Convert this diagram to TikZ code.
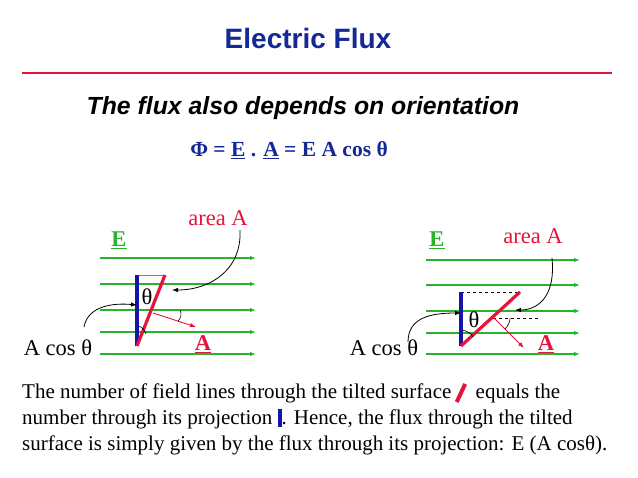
\documentclass[tikz,border=0pt]{standalone}
\usepackage{fontspec}
\setmainfont{Liberation Serif}
\newfontfamily\sans{Liberation Sans}
\usetikzlibrary{arrows.meta}
\definecolor{tblue}{RGB}{20,40,150}
\definecolor{fgreen}{RGB}{40,180,40}
\definecolor{fred}{RGB}{230,20,60}
\definecolor{sblue}{RGB}{20,20,170}
\begin{document}
\begin{tikzpicture}[x=1pt,y=-1pt,
 field/.style={fgreen,line width=1.1pt,-{Latex[length=6pt,width=4.5pt]}},
 blk/.style={black,line width=0.8pt,-{Latex[length=6pt,width=4.5pt]}},
 lbl/.style={font=\fontsize{22.5}{24}\selectfont,inner sep=0pt},
 body/.style={font=\fontsize{21}{26}\selectfont,anchor=west,inner sep=0pt}]
\useasboundingbox (0,0) rectangle (638,478);
\node[font=\sans\bfseries\fontsize{28}{30}\selectfont,text=tblue] (title) at (308,38) {Electric Flux};
\draw[fred,line width=1.4pt] (22,73) coordinate (r1) -- (612,73) coordinate (r2);
\node[font=\sans\bfseries\itshape\fontsize{24.8}{28}\selectfont] (sub) at (303,108) {The flux also depends on orientation};
\node[font=\bfseries\fontsize{21.5}{24}\selectfont,text=tblue] (eq) at (289,150) {Φ = \underline{E} . \underline{A} = E A cos θ};
% left
\foreach \y [count=\i] in {258,284,310,332,354}{\draw[field] (100,\y) coordinate (la\i) -- (256,\y) coordinate (lb\i);}
\coordinate (lbt) at (137,275); \coordinate (lbb) at (137,346); \coordinate (lrt) at (165,275);
\draw[gray,line width=0.7pt] (lbt) -- (lrt);
\draw[sblue,line width=3.2pt] (lbt) -- (lbb);
\draw[fred,line width=3.2pt] (lbb) -- (lrt);
\draw[black,line width=0.6pt] (138,326) .. controls (142,327) and (145,330) .. (146,334);
\coordinate (ln0) at (153,313); \coordinate (ln1) at (196,327);
\draw[fred,line width=0.9pt,-{Latex[length=6pt,width=4.5pt]}] (ln0) -- (ln1);
\draw[black,line width=0.6pt] (180,310) .. controls (182,314) and (181,318) .. (178,321);
\node[lbl,text=fgreen] (lE) at (119,240) {\bfseries\underline{E}};
\node[lbl,text=fred] (lareaA) at (218,218) {area A};
\node[lbl,text=fred] (lA) at (203,344) {\bfseries\underline{A}};
\node[lbl] (lth) at (147,297) {θ};
\node[lbl] (lcos) at (58,348) {A cos θ};
\coordinate (lt1) at (172,290); \coordinate (lt2) at (137,305);
\draw[blk] (240,230) .. controls (242,270) and (210,290) .. (lt1);
\draw[blk] (84,327) .. controls (88,305) and (115,303) .. (lt2);
% right
\foreach \y [count=\i] in {260,285,311,333,354}{\draw[field] (426,\y) coordinate (ra\i) -- (580,\y) coordinate (rb\i);}
\coordinate (rbt) at (461,292); \coordinate (rbb) at (461,346); \coordinate (rrt) at (520,292);
\draw[black,dashed,line width=0.6pt] (rbt) -- (rrt);
\draw[black,dashed,line width=0.6pt] (493,318) -- (540,318);
\draw[sblue,line width=3.2pt] (rbt) -- (rbb);
\draw[fred,line width=3.2pt] (rbb) -- (rrt);
\draw[black,line width=0.6pt] (462,330) .. controls (467,331) and (471,333) .. (473,337);
\coordinate (rn0) at (493,317); \coordinate (rn1) at (524,348);
\draw[fred,line width=0.9pt,-{Latex[length=6pt,width=4.5pt]}] (rn0) -- (rn1);
\draw[black,line width=0.6pt] (510,318) .. controls (510,322) and (508,326) .. (505,329);
\node[lbl,text=fgreen] (rE) at (437,240) {\bfseries\underline{E}};
\node[lbl,text=fred] (rareaA) at (533,236) {area A};
\node[lbl,text=fred] (rA) at (546,344) {\bfseries\underline{A}};
\node[lbl] (rth) at (474,320) {θ};
\node[lbl] (rcos) at (384,348) {A cos θ};
\coordinate (rt1) at (515,310); \coordinate (rt2) at (461,313);
\draw[blk] (552,258) .. controls (556,300) and (535,310) .. (rt1);
\draw[blk] (408,342) .. controls (408,318) and (430,313) .. (rt2);
% body text
\node[body] (t1) at (22,393) {The number of field lines through the tilted surface\,\textcolor{fred}{\raisebox{-3pt}{\rotatebox{-25}{\rule{4pt}{20pt}}}}\, equals the};
\node[body] (t2) at (22,419) {number through its projection \textcolor{sblue}{\raisebox{-2pt}{\rule{4pt}{18pt}}}. Hence, the flux through the tilted};
\node[body] (t3) at (22,445) {surface is simply given by the flux through its projection: E (A cosθ).};
\end{tikzpicture}
\end{document}
